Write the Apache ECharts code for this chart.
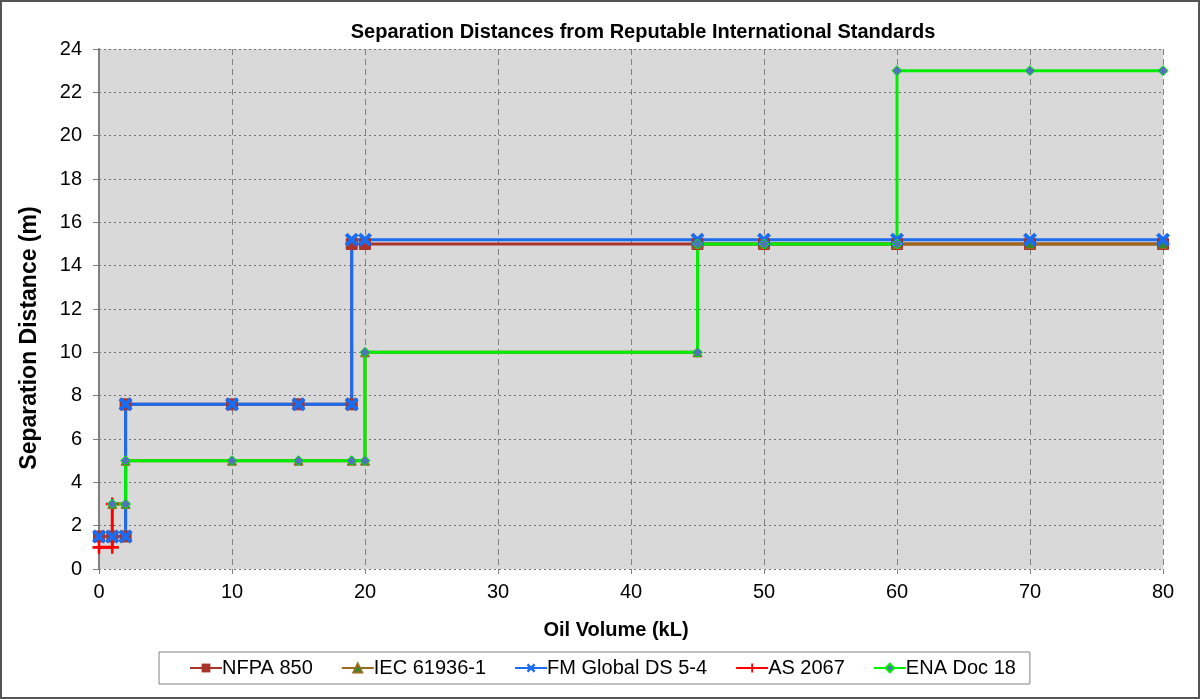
<!DOCTYPE html>
<html><head><meta charset="utf-8">
<script src="https://cdn.jsdelivr.net/npm/echarts@6/dist/echarts.min.js"></script>
<style>
html,body{margin:0;padding:0;background:#fff;}
#c{width:1200px;height:699px;box-sizing:border-box;border:2px solid #555;}
</style></head>
<body><div id="c"></div>
<script>
// Data (x = oil volume kL, y = separation distance m)
const seriesNames = ['NFPA 850','IEC 61936-1','FM Global DS 5-4','AS 2067','ENA Doc 18'];
const nfpaX = [0,1,2,2,10,15,19,19,20,45,50,60,70,80];
const nfpaY = [1.5,1.5,1.5,7.6,7.6,7.6,7.6,15,15,15,15,15,15,15];
const iecX = [1,2,2,10,15,19,20,20,45,45,50,60,70,80];
const iecY = [3,3,5,5,5,5,5,10,10,15,15,15,15,15];
const fmX = [0,1,2,2,10,15,19,19,20,45,50,60,70,80];
const fmY = [1.5,1.5,1.5,7.6,7.6,7.6,7.6,15.2,15.2,15.2,15.2,15.2,15.2,15.2];
const asX = [0,1,1];
const asY = [1,1,3];
const enaX = [1,2,2,10,15,19,20,20,45,45,50,60,60,70,80];
const enaY = [3,3,5,5,5,5,5,10,10,15,15,15,23,23,23];
const xTicks = {min:0,max:80,interval:10};
const yTicks = {min:0,max:24,interval:2};

const pair = (xs, ys) => xs.map((x,i)=>[x, ys[i]]);
const X_SYM = 'path://M0,2 L2,0 L5,3 L8,0 L10,2 L7,5 L10,8 L8,10 L5,7 L2,10 L0,8 L3,5 Z';
const PLUS_SYM = 'path://M4,0 H6 V4 H10 V6 H6 V10 H4 V6 H0 V4 H4 Z';

const chart = echarts.init(document.getElementById('c'));
const font = 'Liberation Sans, Arial, sans-serif';
chart.setOption({
  animation:false,
  textStyle:{fontFamily:font},
  title:{text:'Separation Distances from Reputable International Standards',left:636,top:15,textAlign:'center',
    textStyle:{fontSize:20,fontWeight:'bold',color:'#000',fontFamily:font}},
  graphic:[
    {type:'text',x:614,y:628,style:{text:'Oil Volume (kL)',font:'bold 20px '+font,fill:'#000',textAlign:'center',textVerticalAlign:'middle'}},
    {type:'text',x:28,y:336,rotation:Math.PI/2,style:{text:'Separation Distance (m)',font:'bold 23px '+font,fill:'#000',textAlign:'center',textVerticalAlign:'middle'}}
  ],
  grid:{left:97,right:35,top:47,bottom:128,show:true,backgroundColor:'#d9d9d9',borderWidth:0},
  legend:{bottom:13,left:157,itemGap:28,borderColor:'#808080',borderWidth:1,padding:[6,14,6,30],
    itemWidth:32,itemHeight:11,textStyle:{fontSize:20,color:'#000',fontFamily:font,padding:[0,0,0,-5]},
    data:seriesNames},
  xAxis:{type:'value',min:xTicks.min,max:xTicks.max,interval:xTicks.interval,
    axisLine:{show:false},
    axisTick:{show:true,length:5,lineStyle:{color:'#808080'}},
    axisLabel:{fontSize:20,color:'#000',margin:13},
    splitLine:{show:true,lineStyle:{color:'#808080',type:[6,4],width:1}}},
  yAxis:{type:'value',min:yTicks.min,max:yTicks.max,interval:yTicks.interval,
    axisLine:{show:true,lineStyle:{color:'#808080',width:2}},
    axisTick:{show:true,length:6,lineStyle:{color:'#808080'}},
    axisLabel:{fontSize:20,color:'#000',margin:17},
    splitLine:{show:true,lineStyle:{color:'#707070',type:[2,3],width:1}}},
  series:[
    {name:seriesNames[0],type:'line',data:pair(nfpaX,nfpaY),symbol:'rect',symbolSize:11,
      lineStyle:{color:'#a8342c',width:3},itemStyle:{color:'#a8342c',borderColor:'#a8342c'}},
    {name:seriesNames[1],type:'line',data:pair(iecX,iecY),symbol:'triangle',symbolSize:9,
      lineStyle:{color:'#9a6a1e',width:3},itemStyle:{color:'#2e8b2e',borderColor:'#9a6a1e',borderWidth:1}},
    {name:seriesNames[2],type:'line',data:pair(fmX,fmY),symbol:X_SYM,symbolSize:14,
      lineStyle:{color:'#1a6cf0',width:3},itemStyle:{color:'#1a6cf0'}},
    {name:seriesNames[3],type:'line',data:pair(asX,asY),symbol:PLUS_SYM,symbolSize:13,
      lineStyle:{color:'#ff0000',width:3},itemStyle:{color:'#ff0000'}},
    {name:seriesNames[4],type:'line',data:pair(enaX,enaY),symbol:'diamond',symbolSize:10,
      lineStyle:{color:'#00ee00',width:3},itemStyle:{color:'#4f74b8',borderColor:'#00ee00',borderWidth:1}}
  ]
});
</script></body></html>
